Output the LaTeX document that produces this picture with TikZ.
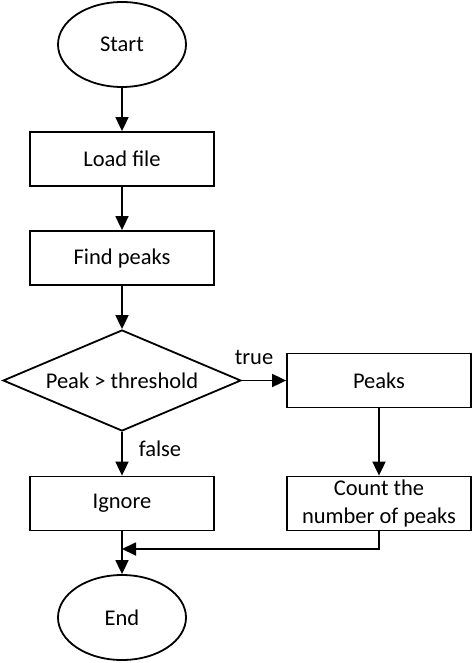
\documentclass[tikz,border=0pt]{standalone}
\usepackage{fontspec}
\setmainfont{Carlito}
\usetikzlibrary{arrows.meta,shapes.geometric}
\begin{document}
\begin{tikzpicture}[x=1pt,y=-1pt,
  txt/.style={font=\fontsize{22.5}{27.5}\selectfont},
  box/.style={draw,line width=1.8pt,minimum width=184pt,minimum height=54pt,inner sep=0pt,txt},
  ell/.style={draw,ellipse,line width=1.8pt,minimum width=128pt,minimum height=85pt,inner sep=0pt,txt},
  dec/.style={draw,diamond,aspect=2.36,line width=1.8pt,minimum width=238pt,minimum height=101pt,inner sep=0pt,txt},
  arr/.style={line width=1.8pt,-{Triangle[length=14pt,width=13pt]}}]
\useasboundingbox (0,0) rectangle (474,663);
\node[ell] (start) at (122,44.5) {Start};
\node[box] (load) at (122,159) {Load file};
\node[box] (find) at (122,258) {Find peaks};
\node[dec] (dec) at (122,380.5) {Peak > threshold};
\node[box] (peaks) at (379,380.5) {Peaks};
\node[box] (ignore) at (122,503.5) {Ignore};
\node[box, label={[txt,align=center]center:Count the\\number of peaks}] (count) at (379,503.5) {};
\node[ell] (end) at (122,617.5) {End};
\coordinate (merge) at (122,549);
\node[txt] (truelbl) at (254,357) {true};
\node[txt] (falselbl) at (160,449) {false};
\draw[arr] (start) -- (load);
\draw[arr] (load) -- (find);
\draw[arr] (find) -- (dec);
\draw[arr] (dec.east) -- (peaks.west);
\draw[arr] (dec.south) -- (ignore.north);
\draw[arr] (peaks) -- (count);
\draw[arr] (ignore) -- (end);
\draw[arr] (count.south) |- (merge);
\end{tikzpicture}
\end{document}
